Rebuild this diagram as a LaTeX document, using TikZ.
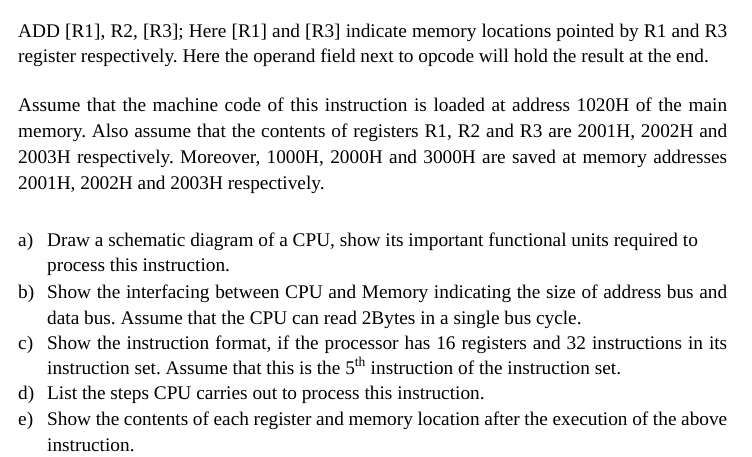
\documentclass[tikz,border=0pt]{standalone}
\usepackage{fontspec}
\setmainfont{Liberation Serif}
\frenchspacing
\begin{document}
\begin{tikzpicture}[x=1pt,y=1pt,
  ln/.style={anchor=base west,inner sep=0pt,font=\fontsize{19.3}{22}\selectfont}]
\useasboundingbox (0,0) rectangle (752,-457);
\node[ln] (l1) at (18,-38) {\makebox[709pt][s]{ADD [R1], R2, [R3]; Here [R1] and [R3] indicate memory locations pointed by R1 and R3}};
\node[ln] (l2) at (18,-63) {register respectively. Here the operand field next to opcode will hold the result at the end.};
\node[ln] (p1) at (18,-112) {\makebox[709pt][s]{Assume that the machine code of this instruction is loaded at address 1020H of the main}};
\node[ln] (p2) at (18,-138) {\makebox[709pt][s]{memory. Also assume that the contents of registers R1, R2 and R3 are 2001H, 2002H and}};
\node[ln] (p3) at (18,-164) {\makebox[709pt][s]{2003H respectively. Moreover, 1000H, 2000H and 3000H are saved at memory addresses}};
\node[ln] (p4) at (18,-190) {2001H, 2002H and 2003H respectively.};
\node[ln] (la) at (18,-246) {a)};
\node[ln] (a1) at (47,-246) {Draw a schematic diagram of a CPU, show its important functional units required to};
\node[ln] (a2) at (47,-271) {process this instruction.};
\node[ln] (lb) at (18,-298) {b)};
\node[ln] (b1) at (47,-298) {\makebox[680pt][s]{Show the interfacing between CPU and Memory indicating the size of address bus and}};
\node[ln] (b2) at (47,-324) {data bus. Assume that the CPU can read 2Bytes in a single bus cycle.};
\node[ln] (lc) at (18,-349) {c)};
\node[ln] (c1) at (47,-349) {\makebox[680pt][s]{Show the instruction format, if the processor has 16 registers and 32 instructions in its}};
\node[ln] (c2) at (47,-374) {instruction set. Assume that this is the 5\textsuperscript{th} instruction of the instruction set.};
\node[ln] (ld) at (18,-399) {d)};
\node[ln] (d1) at (47,-399) {List the steps CPU carries out to process this instruction.};
\node[ln] (le) at (18,-425) {e)};
\node[ln] (e1) at (47,-425) {\makebox[680pt][s]{Show the contents of each register and memory location after the execution of the above}};
\node[ln] (e2) at (47,-451) {instruction.};
\end{tikzpicture}
\end{document}
